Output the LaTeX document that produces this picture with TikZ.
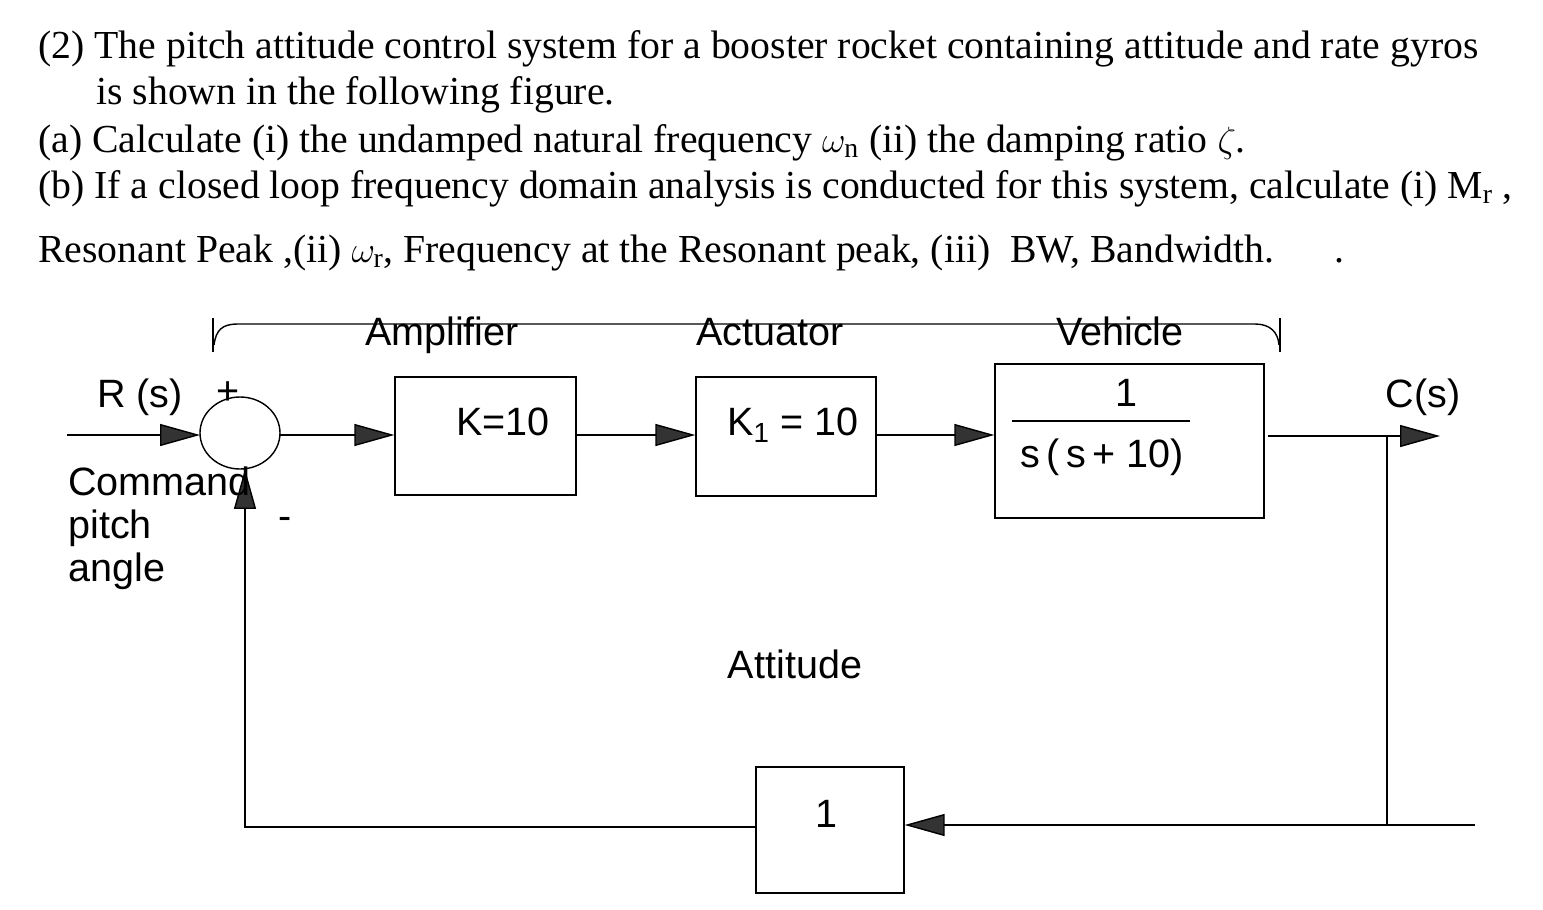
\documentclass[tikz,border=0pt]{standalone}
\usepackage{fontspec}
\setmainfont{Liberation Serif}
\setsansfont{Liberation Sans}
\usetikzlibrary{arrows.meta}
\begin{document}
\begin{tikzpicture}[x=0.02cm,y=-0.02cm,
  hd/.style={anchor=base west,font=\fontsize{22.6}{25}\selectfont,inner sep=0},
  lb/.style={font=\sffamily\fontsize{22.5}{22.7}\selectfont,inner sep=0,text height=1.6ex,text depth=0.4ex,yshift=-0.16cm},
  blk/.style={draw,line width=0.8pt},
  ln/.style={line width=0.8pt},
  tip/.style={-{Triangle[length=0.8cm,width=0.44cm,fill=black!80]}}]
\useasboundingbox (0,0) rectangle (1543,910);
\node[hd] (t1) at (38,58) {(2) The pitch attitude control system for a booster rocket containing attitude and rate gyros};
\node[hd] (t2) at (96,104) {is shown in the following figure.};
\node[hd] (t3) at (38,152) {(a) Calculate (i) the undamped natural frequency $\omega_{\mathrm n}$ (ii) the damping ratio $\zeta$.};
\node[hd] (t4) at (38,198) {(b) If a closed loop frequency domain analysis is conducted for this system, calculate (i) M$_{\mathrm r}$ ,};
\node[hd] (t5) at (38,262) {Resonant Peak ,(ii) $\omega_{\mathrm r}$, Frequency at the Resonant peak, (iii)\ \ BW, Bandwidth.\hspace{1.2cm}.};
% bracket
\draw[ln] (213,352) -- (213,318);
\draw[ln] (214,345) .. controls (216,330) and (222,324) .. (238,324) -- (1255,324) .. controls (1270,324) and (1278,332) .. (1279,345);
\draw[ln] (1280,352) -- (1280,318);
\node[lb] (amp) at (442,333) {Amplifier};
\node[lb] (act) at (770,333) {Actuator};
\node[lb] (veh) at (1120,333) {Vehicle};
% blocks
\draw[ln] (240,433) ellipse (40 and 36);
\coordinate (sum) at (240,433);
\node[blk,minimum width=3.62cm,minimum height=2.36cm] (b1) at (485.5,436) {};
\node[lb] (k) at (503,423) {K=10};
\node[blk,minimum width=3.6cm,minimum height=2.38cm] (b2) at (786,436.5) {};
\node[lb] (k1) at (793,423) {K\textsubscript{1} = 10};
\node[blk,minimum width=5.38cm,minimum height=3.08cm] (b3) at (1129.5,441) {};
\node[lb] (num) at (1126,394) {1};
\draw[ln] (1012,421) -- (1190,421);
\node[lb] (den) at (1102,455) {s\,(\,s\,+ 10)};
\node[blk,minimum width=2.96cm,minimum height=2.52cm] (b4) at (830,830) {};
\node[lb] (one) at (826,815) {1};
% signals
\coordinate (in) at (67,435);
\draw[ln,tip] (in) -- (200,435);
\draw[ln,tip] (280,435) -- (b1.west |- 0,435);
\draw[ln,tip] (b1.east |- 0,435) -- (b2.west |- 0,435);
\draw[ln,tip] (b2.east |- 0,435) -- (b3.west |- 0,435);
\coordinate (outend) at (1440,436);
\draw[ln,tip] (1268,436) -- (outend);
\coordinate (br) at (1387,436);
\coordinate (fbr) at (1475,825);
\draw[ln] (br) -- (1387,825);
\draw[ln,tip] (fbr) -- (b4.east |- 0,825);
\draw[ln,tip] (b4.west |- 0,827) -- (245,827) -- (245,469);
% labels
\node[lb] (rs) at (140,395) {R (s)};
\node[lb] (plus) at (228,392) {+};
\node[lb] (minus) at (285,517) {-};
\node[lb,align=left,anchor=north west,text height=,text depth=,yshift=0.16cm] (cmd) at (68,466) {Command\\[2pt]pitch\\[2pt]angle};
\node[lb] (cs) at (1423,395) {C(s)};
\node[lb] (att) at (795,666) {Attitude};
\end{tikzpicture}
\end{document}
